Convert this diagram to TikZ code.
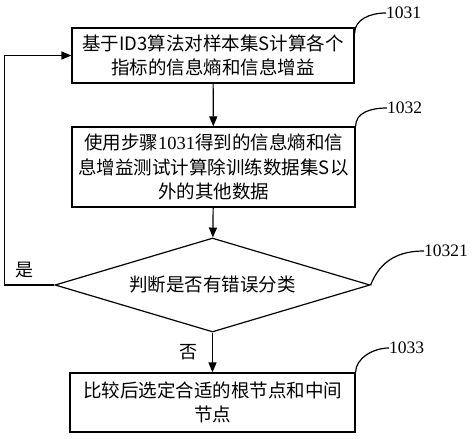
\documentclass[tikz,border=0pt]{standalone}
\usepackage{fontspec}
\setmainfont{Liberation Serif}
\newfontfamily\cjk{Noto Sans CJK SC}
\usepackage{tikz}
\usetikzlibrary{shapes,arrows,arrows.meta,positioning}

\begin{document}
\begin{tikzpicture}[
    x=1pt, y=-1pt,
    process/.style={rectangle, draw, line width=1.2pt, align=center, inner sep=0pt, font=\cjk\fontsize{18.5}{24.5}\selectfont},
    decision/.style={diamond, draw, line width=1.2pt, aspect=3.35, inner sep=0pt, minimum width=315pt, minimum height=94pt, font=\cjk\fontsize{18.5}{24.5}\selectfont},
    tag/.style={anchor=west, inner sep=0pt, font=\fontsize{17.5}{20}\selectfont},
    note/.style={inner sep=0pt, font=\cjk\fontsize{18}{20}\selectfont},
    flow/.style={draw, line width=1.2pt, -{Triangle[length=10pt, width=8pt]}},
    lead/.style={draw, line width=1.2pt}
]
\useasboundingbox (0,0) rectangle (474,439);

% steps
\node[process, minimum width=282pt, minimum height=55pt] (s1031) at (213,55.5) {基于ID3算法对样本集S计算各个\\指标的信息熵和信息增益};
\node[process, minimum width=283pt, minimum height=80pt] (s1032) at (213.5,167) {使用步骤\textrm{1031}得到的信息熵和信\\息增益测试计算除训练数据集S以\\外的其他数据};
\node[decision] (s10321) at (212.5,285) {判断是否有错误分类};
\node[process, minimum width=285pt, minimum height=59pt] (s1033) at (212.5,402.5) {比较后选定合适的根节点和中间\\节点};

% reference numbers
\node[tag] (t1031) at (386,13) {1031};
\node[tag] (t1032) at (387,108) {1032};
\node[tag] (t10321) at (424,251) {10321};
\node[tag] (t1033) at (389,348) {1033};

\draw[lead] ([yshift=-6pt]s1031.north east) .. controls +(0,-14) and +(-16,0) .. (t1031.west);
\draw[lead] (s1032.north east) .. controls +(0,-14) and +(-16,0) .. (t1032.west);
\draw[lead] (s10321.east) .. controls +(10,-25) and +(-25,0) .. (t10321.west);
\draw[lead] (s1033.north east) .. controls +(0,-14) and +(-16,0) .. (t1033.west);

% arrows
\draw[flow] (s1031) -- (s1032);
\draw[flow] (s1032) -- (s10321);
\draw[flow] (s10321) -- (s1033) node[note, pos=0.5, left=14pt] (no) {否};
\draw[flow] (s10321.west) -- ++(-50,0) coordinate (back) |- (s1031.west);
\node[note] (yes) at (25,270) {是};

\end{tikzpicture}
\end{document}
